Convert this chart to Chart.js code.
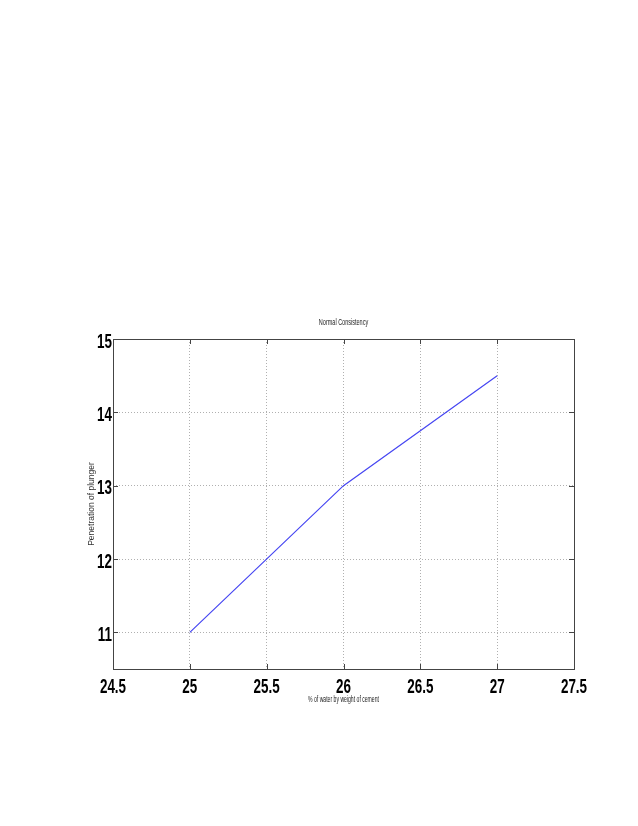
<!DOCTYPE html>
<html>
<head>
<meta charset="utf-8">
<style>
  html, body { margin: 0; padding: 0; background: #fff; }
  #wrap { width: 638px; height: 826px; }
</style>
<script src="https://cdn.jsdelivr.net/npm/chart.js@4/dist/chart.umd.min.js"></script>
</head>
<body>
<div id="wrap"><canvas id="chart" width="638" height="826"></canvas></div>
<script>
// data
const waterPct = [25, 26, 27];
const penetration = [11, 13, 14.5];
const xTicks = [24.5, 25, 25.5, 26, 26.5, 27, 27.5];
const xTickLabels = ['24.5', '25', '25.5', '26', '26.5', '27', '27.5'];
const yTicks = [11, 12, 13, 14, 15];
const yTickLabels = ['11', '12', '13', '14', '15'];

const chartTitle = 'Normal Consistency';
const xTitle = '% of water by weight of cement';
const yTitle = 'Penetration of plunger';

const SANS = "'Liberation Sans', Arial, sans-serif";

// narrow (condensed) text, like the MATLAB export
function narrowText(ctx, text, x, y, font, sx, align, baseline, color) {
  ctx.save();
  ctx.translate(x, y);
  ctx.scale(sx, 1);
  ctx.font = font;
  ctx.fillStyle = color;
  ctx.textAlign = align;
  ctx.textBaseline = baseline;
  ctx.fillText(text, 0, 0);
  ctx.restore();
}

// box with inward ticks, tick labels and titles
const boxPlugin = {
  id: 'box',
  afterDraw(chart) {
    const { ctx, chartArea: a, scales } = chart;
    ctx.save();
    ctx.strokeStyle = '#444';
    ctx.lineWidth = 1;
    ctx.setLineDash([]);
    ctx.strokeRect(Math.round(a.left) + 0.5, Math.round(a.top) + 0.5,
      Math.round(a.right - a.left), Math.round(a.bottom - a.top));
    ctx.beginPath();
    const len = 5;
    xTicks.forEach(v => {
      const px = Math.round(scales.x.getPixelForValue(v)) + 0.5;
      ctx.moveTo(px, a.bottom); ctx.lineTo(px, a.bottom - len);
      ctx.moveTo(px, a.top); ctx.lineTo(px, a.top + len);
    });
    yTicks.forEach(v => {
      const py = Math.round(scales.y.getPixelForValue(v)) + 0.5;
      ctx.moveTo(a.left, py); ctx.lineTo(a.left + len, py);
      ctx.moveTo(a.right, py); ctx.lineTo(a.right - len, py);
    });
    ctx.stroke();
    ctx.restore();

    const tickFont = 'bold 21px ' + SANS;
    xTicks.forEach((v, i) => {
      narrowText(ctx, xTickLabels[i], scales.x.getPixelForValue(v), a.bottom + 8,
        tickFont, 0.64, 'center', 'top', '#000');
    });
    yTicks.forEach((v, i) => {
      narrowText(ctx, yTickLabels[i], a.left - 1, scales.y.getPixelForValue(v) + 3,
        tickFont, 0.64, 'right', 'middle', '#000');
    });
    const cx = (a.left + a.right) / 2;
    narrowText(ctx, chartTitle, cx, a.top - 17, '9.5px ' + SANS, 0.58, 'center', 'middle', '#222');
    narrowText(ctx, xTitle, cx, a.bottom + 31, '8.5px ' + SANS, 0.6, 'center', 'middle', '#222');
  }
};

new Chart(document.getElementById('chart'), {
  type: 'scatter',
  data: {
    datasets: [{
      data: waterPct.map((x, i) => ({ x: x, y: penetration[i] })),
      showLine: true,
      borderColor: '#4646f2',
      borderWidth: 1.2,
      pointRadius: 0,
      tension: 0
    }]
  },
  options: {
    responsive: false,
    animation: false,
    layout: { padding: { left: 0, right: 64, top: 339, bottom: 0 } },
    plugins: {
      legend: { display: false },
      tooltip: { enabled: false },
      title: { display: false }
    },
    scales: {
      x: {
        type: 'linear',
        min: 24.5,
        max: 27.5,
        afterFit(scale) { scale.height = 157; },
        afterBuildTicks(scale) { scale.ticks = xTicks.map(v => ({ value: v })); },
        grid: { color: '#b0b0b0', lineWidth: 1, drawTicks: false },
        border: { display: false, dash: [1, 2] },
        ticks: { display: false }
      },
      y: {
        type: 'linear',
        min: 10.5,
        max: 15,
        afterFit(scale) { scale.width = 113; },
        afterBuildTicks(scale) { scale.ticks = yTicks.map(v => ({ value: v })); },
        grid: { color: '#b0b0b0', lineWidth: 1, drawTicks: false },
        border: { display: false, dash: [1, 2] },
        ticks: { display: false },
        title: {
          display: true,
          text: yTitle,
          color: '#333',
          font: { family: SANS, size: 8.5 },
          padding: { top: 87, bottom: 0 }
        }
      }
    }
  },
  plugins: [boxPlugin]
});
</script>
</body>
</html>
